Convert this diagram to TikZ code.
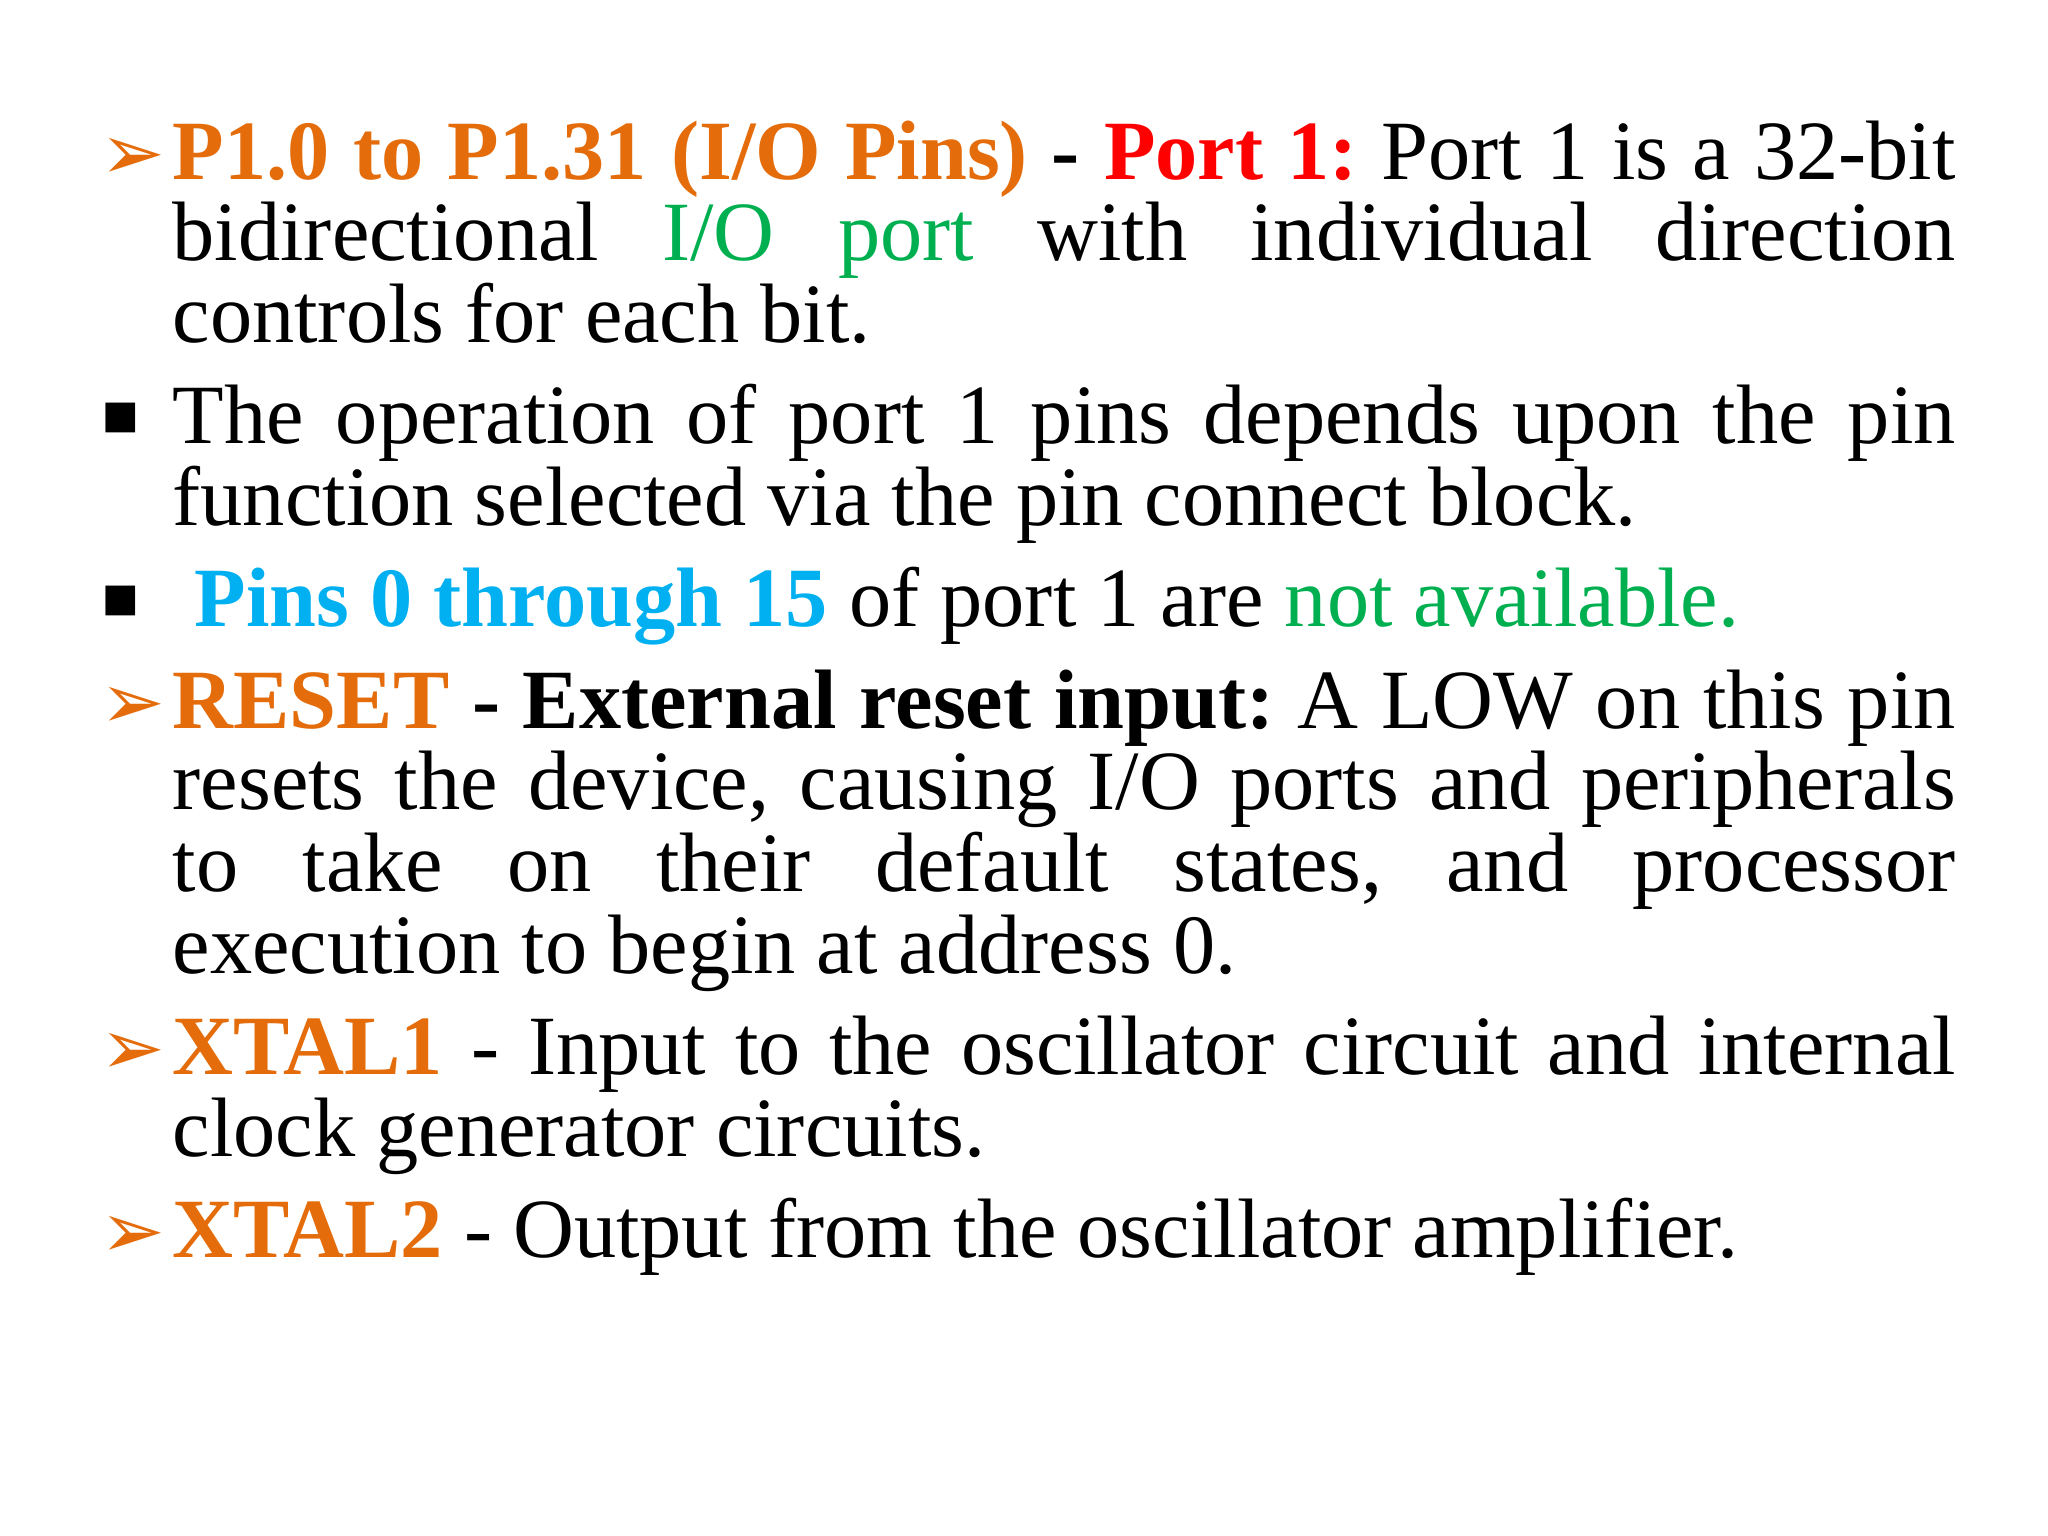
\documentclass[tikz,border=0pt]{standalone}
\usepackage{fontspec}
\setmainfont{Liberation Serif}
\newfontfamily\symfont{DejaVu Sans}
\definecolor{orng}{RGB}{228,108,10}
\definecolor{grn}{RGB}{0,176,80}
\definecolor{cyn}{RGB}{0,176,240}
\newcommand{\arr}{\noindent\llap{\makebox[0.72cm][l]{\color{orng}\symfont\fontsize{22}{22}\selectfont ➢}}}
\newcommand{\sqb}{\noindent\llap{\makebox[0.72cm][l]{\raisebox{0.12em}{\symfont\fontsize{17}{17}\selectfont ▪}}}}
\newcommand{\pgap}{\par\vspace{0.2cm}}
\begin{document}
\begin{tikzpicture}[x=1cm,y=1cm]
\useasboundingbox (0,0) rectangle (20.48,-15.36);
\node[anchor=north west,inner sep=0pt,text width=17.83cm,align=justify,
  font=\fontsize{24}{23.2}\selectfont\frenchspacing] (txt) at (1.72,-1.20) {%
\arr{\bfseries\color{orng}P1.0 to P1.31 (I/O Pins)} \textbf{-} {\bfseries\color{red}Port 1:} Port 1 is a 32-bit\linebreak
bidirectional {\color{grn}I/O port} with individual direction\linebreak
controls for each bit.\pgap
\sqb The operation of port 1 pins depends upon the pin\linebreak
function selected via the pin connect block.\pgap
\sqb\hspace{0.22cm}{\bfseries\color{cyn}Pins 0 through 15} of port 1 are {\color{grn}not available.}\pgap
\arr{\bfseries\color{orng}RESET} \textbf{- External reset input:} A LOW on this pin\linebreak
resets the device, causing I/O ports and peripherals\linebreak
to take on their default states, and processor\linebreak
execution to begin at address 0.\pgap
\arr{\bfseries\color{orng}XTAL1} - Input to the oscillator circuit and internal\linebreak
clock generator circuits.\pgap
\arr{\bfseries\color{orng}XTAL2} - Output from the oscillator amplifier.};
\end{tikzpicture}
\end{document}
